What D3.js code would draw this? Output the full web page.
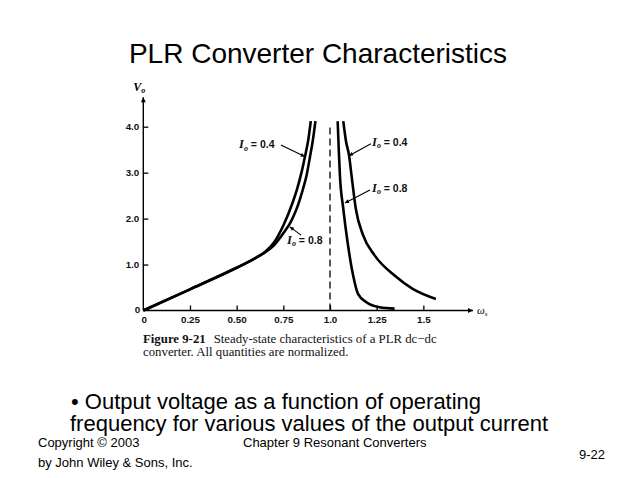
<!DOCTYPE html>
<html><head><meta charset="utf-8">
<script src="https://cdn.jsdelivr.net/npm/d3@7"></script>
<style>body{margin:0;background:#fff}svg{display:block}</style>
</head><body><svg id="c" width="638" height="478"></svg>
<script>
// ---- data ----
const xTicks = [0.25, 0.5, 0.75, 1.0, 1.25, 1.5];
const xTickLabels = ["0.25", "0.50", "0.75", "1.0", "1.25", "1.5"];
const yTicks = [1, 2, 3, 4];
const yTickLabels = ["1.0", "2.0", "3.0", "4.0"];
// below resonance
const belowW_04 = [0, 0.25, 0.5, 0.55, 0.6, 0.65, 0.70, 0.75, 0.80, 0.822, 0.85, 0.866, 0.885, 0.897];
const belowV_04 = [0, 0.46, 0.93, 1.03, 1.14, 1.27, 1.48, 1.85, 2.35, 2.62, 3.05, 3.35, 3.75, 4.12];
const belowW_08 = [0, 0.25, 0.5, 0.55, 0.6, 0.65, 0.70, 0.75, 0.79, 0.82, 0.852, 0.875, 0.893, 0.908, 0.922];
const belowV_08 = [0, 0.46, 0.93, 1.03, 1.14, 1.26, 1.42, 1.68, 1.93, 2.2, 2.6, 2.95, 3.35, 3.7, 4.12];
// above resonance
const aboveW_04 = [1.071, 1.085, 1.103, 1.115, 1.138, 1.177, 1.239, 1.346, 1.443, 1.567];
const aboveV_04 = [4.12, 3.7, 3.35, 2.95, 2.22, 1.64, 1.2, 0.76, 0.47, 0.25];
const aboveW_08 = [1.041, 1.047, 1.053, 1.071, 1.094, 1.124, 1.15, 1.195, 1.266, 1.346];
const aboveV_08 = [4.12, 3.5, 2.95, 2.22, 1.49, 0.76, 0.36, 0.18, 0.07, 0.04];
// annotations (data units)
const annLabels = ["0.4", "0.8", "0.4", "0.8"];
const annTextW = [0.513, 0.77, 1.225, 1.225];
const annTextV = [3.53, 1.45, 3.58, 2.58];
const annFromW = [0.737, 0.845, 1.219, 1.214];
const annFromV = [3.6, 1.64, 3.63, 2.62];
const annToW = [0.865, 0.785, 1.102, 1.08];
const annToV = [3.35, 1.82, 3.37, 2.34];

const svg = d3.select("#c");
const x = d3.scaleLinear().domain([0, 1]).range([143.3, 330]);
const y = d3.scaleLinear().domain([0, 4]).range([310.5, 126.7]);
const sans = "Liberation Sans, Arial, sans-serif";
const serif = "Liberation Serif, Times New Roman, serif";

// Title
svg.append("text").attr("x", 318).attr("y", 63).attr("text-anchor", "middle")
  .attr("font-family", sans).attr("font-size", 28)
  .text("PLR Converter Characteristics");

// arrow markers
const defs = svg.append("defs");
defs.append("marker").attr("id", "ah").attr("viewBox", "0 0 10 10").attr("refX", 10).attr("refY", 5)
  .attr("markerWidth", 8).attr("markerHeight", 5).attr("markerUnits", "userSpaceOnUse").attr("orient", "auto")
  .append("path").attr("d", "M0,0L10,5L0,10z").attr("fill", "#000");
defs.append("marker").attr("id", "ahs").attr("viewBox", "0 0 10 10").attr("refX", 10).attr("refY", 5)
  .attr("markerWidth", 6).attr("markerHeight", 4).attr("markerUnits", "userSpaceOnUse").attr("orient", "auto")
  .append("path").attr("d", "M0,0L10,5L0,10z").attr("fill", "#000");

// axes lines
svg.append("line").attr("x1", x(0)).attr("y1", y(0)).attr("x2", x(1.766)).attr("y2", y(0))
  .attr("stroke", "#000").attr("stroke-width", 1.4).attr("marker-end", "url(#ah)");
svg.append("line").attr("x1", x(0)).attr("y1", y(0)).attr("x2", x(0)).attr("y2", y(4.64))
  .attr("stroke", "#000").attr("stroke-width", 1.4).attr("marker-end", "url(#ah)");

const xa = svg.append("g").attr("transform", `translate(0,${y(0)})`)
  .call(d3.axisBottom(x).tickValues(xTicks).tickFormat((d, i) => xTickLabels[i]).tickSize(-5).tickSizeOuter(0).tickPadding(6));
xa.select(".domain").remove();
xa.selectAll("line").attr("stroke", "#000").attr("stroke-width", 1.3);
xa.selectAll("text").attr("font-family", sans).attr("font-size", 9.8).attr("font-weight", "bold").attr("fill", "#111");

const ya = svg.append("g").attr("transform", `translate(${x(0)},0)`)
  .call(d3.axisLeft(y).tickValues(yTicks).tickFormat((d, i) => yTickLabels[i]).tickSize(-5).tickSizeOuter(0).tickPadding(4));
ya.select(".domain").remove();
ya.selectAll("line").attr("stroke", "#000").attr("stroke-width", 1.3);
ya.selectAll("text").attr("font-family", sans).attr("font-size", 9.8).attr("font-weight", "bold").attr("fill", "#111");

// origin labels
svg.append("text").attr("x", x(0) - 3).attr("y", y(0) + 2).attr("text-anchor", "end")
  .attr("font-family", sans).attr("font-size", 9.8).attr("font-weight", "bold").attr("fill", "#111").text("0");
svg.append("text").attr("x", x(0) + 1).attr("y", y(0) + 12.5).attr("text-anchor", "middle")
  .attr("font-family", sans).attr("font-size", 9.8).attr("font-weight", "bold").attr("fill", "#111").text("0");

// axis titles
const vo = svg.append("text").attr("x", x(0) - 10).attr("y", y(4.64) - 6)
  .attr("font-family", serif).attr("font-style", "italic").attr("font-weight", "bold").attr("font-size", 12);
vo.append("tspan").text("V");
vo.append("tspan").attr("font-size", 8).attr("dy", 2).text("o");
const ws = svg.append("text").attr("x", x(1.766) + 4).attr("y", y(0) + 3)
  .attr("font-family", serif).attr("font-style", "italic").attr("font-size", 11);
ws.append("tspan").text("ω");
ws.append("tspan").attr("font-size", 7).attr("dy", 2).text("s");

// dashed resonance line
svg.append("line").attr("x1", x(1)).attr("x2", x(1)).attr("y1", y(0)).attr("y2", y(4.05))
  .attr("stroke", "#000").attr("stroke-width", 1.3).attr("stroke-dasharray", "7,4");

// curves
const line = d3.line().x(d => x(d[0])).y(d => y(d[1])).curve(d3.curveMonotoneX);
const series = [[belowW_04, belowV_04], [belowW_08, belowV_08], [aboveW_04, aboveV_04], [aboveW_08, aboveV_08]];
series.forEach(([w, v]) => {
  svg.append("path").datum(w.map((d, i) => [d, v[i]])).attr("d", line)
    .attr("fill", "none").attr("stroke", "#000").attr("stroke-width", 2.6).attr("stroke-linejoin", "round");
});

// annotations
annLabels.forEach((lab, i) => {
  const t = svg.append("text").attr("x", x(annTextW[i])).attr("y", y(annTextV[i]))
    .attr("font-size", 10.5).attr("font-weight", "bold").attr("fill", "#111");
  t.append("tspan").attr("font-family", serif).attr("font-style", "italic").attr("font-size", 12.5).text("I");
  t.append("tspan").attr("font-family", serif).attr("font-style", "italic").attr("font-size", 8).attr("dy", 2.5).text("o");
  t.append("tspan").attr("font-family", sans).attr("dy", -2.5).text(" = " + lab);
  svg.append("line").attr("x1", x(annFromW[i])).attr("y1", y(annFromV[i])).attr("x2", x(annToW[i])).attr("y2", y(annToV[i]))
    .attr("stroke", "#000").attr("stroke-width", 1.1).attr("marker-end", "url(#ahs)");
});

// caption
const c1 = svg.append("text").attr("x", 143).attr("y", 343).attr("font-family", serif).attr("font-size", 12.8).attr("fill", "#111");
c1.append("tspan").attr("font-weight", "bold").text("Figure 9-21");
c1.append("tspan").attr("dx", 8).text("Steady-state characteristics of a PLR dc\u2212dc");
svg.append("text").attr("x", 143).attr("y", 356).attr("font-family", serif).attr("font-size", 12.8).attr("fill", "#111")
  .text("converter. All quantities are normalized.");

// bullet text
svg.append("text").attr("x", 71).attr("y", 409).attr("font-family", sans).attr("font-size", 22)
  .text("\u2022 Output voltage as a function of operating");
svg.append("text").attr("x", 70).attr("y", 431).attr("font-family", sans).attr("font-size", 22)
  .text("frequency for various values of the output current");

// footer
svg.append("text").attr("x", 38).attr("y", 447).attr("font-family", sans).attr("font-size", 13).text("Copyright \u00a9 2003");
svg.append("text").attr("x", 38).attr("y", 467).attr("font-family", sans).attr("font-size", 13).text("by John Wiley & Sons, Inc.");
svg.append("text").attr("x", 243).attr("y", 447).attr("font-family", sans).attr("font-size", 13).text("Chapter 9 Resonant Converters");
svg.append("text").attr("x", 605).attr("y", 459).attr("text-anchor", "end").attr("font-family", sans).attr("font-size", 13).text("9-22");
</script></body></html>
